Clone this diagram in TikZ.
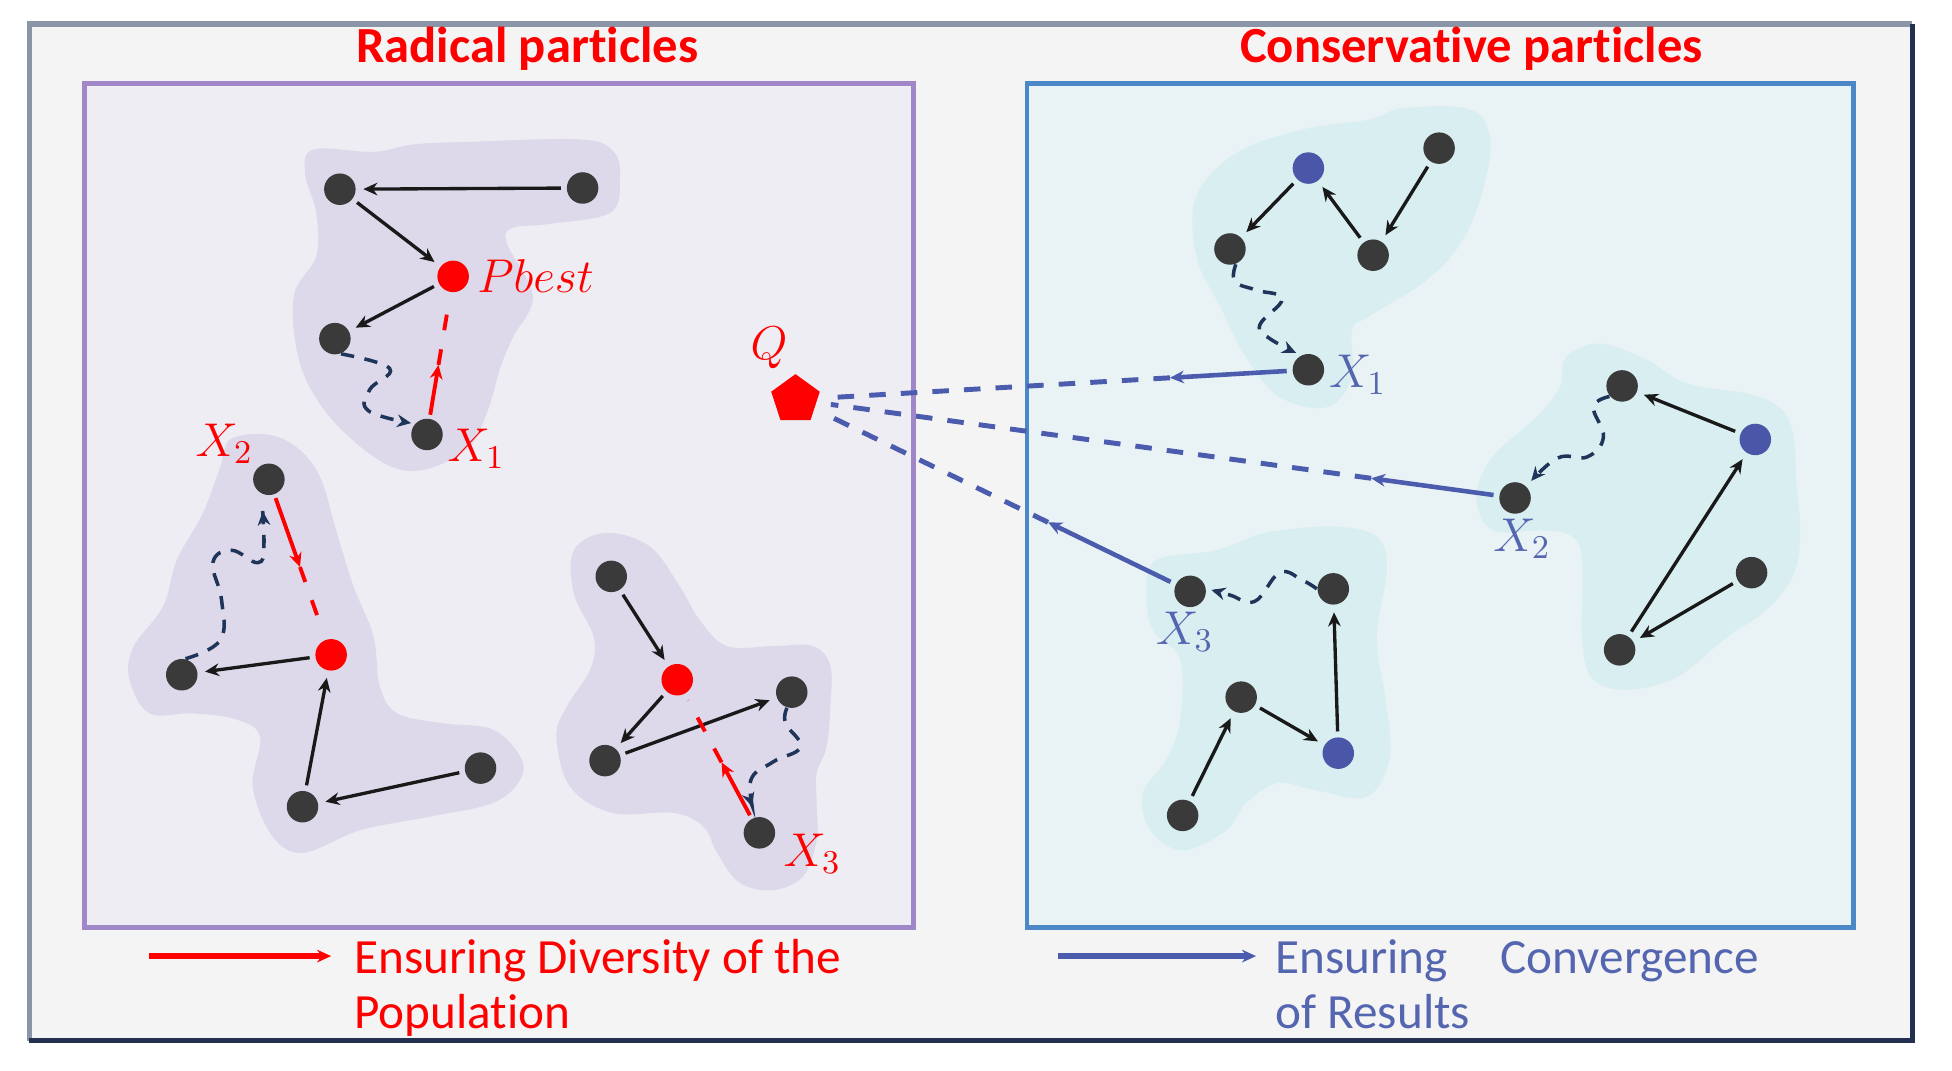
\documentclass[tikz,border=0pt]{standalone}
\usepackage{fix-cm}
\usepackage[no-math]{fontspec}
\setmainfont{Carlito}[Ligatures=NoCommon]
\usepackage{tikz}
\usetikzlibrary{arrows.meta, positioning, calc, shapes.geometric}

\definecolor{outerbg}{HTML}{F4F4F4}
\definecolor{framegray}{HTML}{8A96A8}
\definecolor{framenavy}{HTML}{23304F}
\definecolor{lpanel}{HTML}{EEEDF3}
\definecolor{lborder}{HTML}{A088C8}
\definecolor{rpanel}{HTML}{E9F2F4}
\definecolor{rborder}{HTML}{4C88C8}
\definecolor{lblob}{HTML}{DDD9EA}
\definecolor{rblob}{HTML}{D8EEF1}
\definecolor{ptgray}{HTML}{3A3A3A}
\definecolor{bestred}{HTML}{FF0000}
\definecolor{convblue}{HTML}{4A57A8}
\definecolor{wavenavy}{HTML}{1F3459}
\definecolor{qblue}{HTML}{4B5BAD}
\definecolor{convtxt}{HTML}{5566B0}

\tikzset{
  dot/.style={circle, fill=ptgray, inner sep=0pt, minimum size=3.15mm},
  bestdot/.style={dot, fill=bestred},
  convdot/.style={dot, fill=convblue},
  move/.style={->, line width=0.95pt, black!90, shorten >=2pt, shorten <=1.5pt},
  wander/.style={->, wavenavy, line width=1pt, dash pattern=on 3.8pt off 3pt},
  pull/.style={->, bestred, line width=1.1pt, shorten <=1pt},
  pulldash/.style={bestred, line width=1.1pt, dash pattern=on 4.5pt off 5.5pt, shorten >=2pt},
  push/.style={->, qblue, line width=1.3pt, shorten <=1.5pt},
  pushdash/.style={qblue, line width=1.4pt, dash pattern=on 4.7pt off 4.3pt, shorten >=4pt},
  rlab/.style={text=bestred, font=\fontsize{13.5}{15}\selectfont, inner sep=1pt},
  blab/.style={text=convtxt, font=\fontsize{13.5}{15}\selectfont, inner sep=1pt},
  ttl/.style={text=bestred, font=\fontsize{14.4}{17}\selectfont\bfseries, inner sep=0pt},
  legtxt/.style={font=\fontsize{14}{15.6}\selectfont, align=left, inner sep=0pt, anchor=north west}
}

\begin{document}
\begin{tikzpicture}[x=0.1245mm, y=-0.1245mm, >={Stealth[length=4pt,width=3.6pt]}]
  \useasboundingbox (0,0) rectangle (1568,860);
  \fill[white] (0,0) rectangle (1568,860);
  % outer frame
  \fill[outerbg] (23.5,19.3) rectangle (1536,836);
  \draw[framegray, line width=1.5pt] (23.5,836) -- (23.5,19.3) -- (1536,19.3);
  \draw[framenavy, line width=1.5pt] (1536,19.3) -- (1536,836) -- (23.5,836);
  % panels
  \draw[lborder, fill=lpanel, line width=1.3pt] (68,67) rectangle (734,745);
  \draw[rborder, fill=rpanel, line width=1.3pt] (825,67) rectangle (1489,745);
  \node[ttl, anchor=base] (ttlrad) at (423.5,50) {Radical particles};
  \node[ttl, anchor=base] (ttlcon) at (1182,50) {Conservative particles};

  % clouds, radical side
  \fill[lblob] plot[smooth cycle, tension=0.6] coordinates {(245,139) (252,120) (300,122) (332,116)
    (375,114) (466,112) (493,122) (498,145) (490,171) (440,180) (412,183) (407,195) (428,238)
    (412,271) (402,295) (391,332) (375,361) (337,378) (305,370) (265,335) (241,292) (236,238)
    (254,206) (254,171)};
  \fill[lblob] plot[smooth cycle, tension=0.6] coordinates {(177,375) (185,353) (214,349) (238,359)
    (257,383) (270,426) (284,471) (300,511) (305,551) (319,573) (356,581) (396,586) (418,608)
    (418,626) (396,645) (345,656) (289,667) (244,685) (219,672) (203,632) (209,592) (190,578)
    (155,573) (120,573) (104,546) (107,520) (131,487) (142,450) (163,412)};
  \fill[lblob] plot[smooth cycle, tension=0.6] coordinates {(461,442) (487,428) (522,439) (546,471)
    (562,498) (584,519) (621,519) (653,519) (667,535) (667,568) (664,600) (656,621) (656,645)
    (656,675) (645,704) (621,715) (594,709) (576,685) (565,664) (541,653) (492,653) (458,632)
    (447,592) (455,568) (474,538) (477,512) (461,477)};
  % clouds, conservative side
  \fill[rblob] plot[smooth cycle, tension=0.6] coordinates {(961,158) (993,123) (1047,104) (1100,96)
    (1127,87) (1181,88) (1197,112) (1191,153) (1175,193) (1146,225) (1100,254) (1086,265)
    (1086,303) (1066,327) (1028,319) (1001,287) (980,246) (961,206)};
  \fill[rblob] plot[smooth cycle, tension=0.6] coordinates {(1258,287) (1285,276) (1323,289)
    (1355,308) (1414,319) (1438,340) (1443,386) (1446,431) (1440,463) (1419,490) (1387,512)
    (1347,544) (1307,554) (1280,546) (1271,516) (1271,452) (1263,431) (1239,426) (1199,426)
    (1186,399) (1199,367) (1234,335) (1253,311)};
  \fill[rblob] plot[smooth cycle, tension=0.6] coordinates {(929,450) (977,442) (1017,428)
    (1071,423) (1106,431) (1114,458) (1106,512) (1114,568) (1116,610) (1098,640) (1058,635)
    (1026,629) (1001,645) (985,667) (950,683) (924,667) (918,637) (937,610) (948,578) (948,530)
    (926,506) (921,476)};

  % radical particles
  \node[dot] (La1) at (273,152) {};
  \node[dot] (La2) at (468,151) {};
  \node[bestdot] (Labest) at (364,222) {};
  \node[dot] (La3) at (269,272) {};
  \node[dot] (LX1) at (343,349) {};
  \node[dot] (LX2) at (216,385) {};
  \node[dot] (Lb1) at (146,542) {};
  \node[bestdot] (Lbbest) at (266,526) {};
  \node[dot] (Lb2) at (243,648) {};
  \node[dot] (Lb3) at (386,617) {};
  \node[dot] (Lc1) at (491,463) {};
  \node[bestdot] (Lcbest) at (544,546) {};
  \node[dot] (Lc2) at (636,556) {};
  \node[dot] (Lc3) at (486,611) {};
  \node[dot] (LX3) at (610,669) {};
  % conservative particles
  \node[convdot] (Rabest) at (1051,135) {};
  \node[dot] (Ra1) at (1156,119) {};
  \node[dot] (Ra2) at (988,200) {};
  \node[dot] (Ra3) at (1103,205) {};
  \node[dot] (RX1) at (1051,297) {};
  \node[dot] (Rb1) at (1303,310) {};
  \node[convdot] (Rbbest) at (1410,353) {};
  \node[dot] (RX2) at (1217,400) {};
  \node[dot] (Rb2) at (1407,460) {};
  \node[dot] (Rb3) at (1301,522) {};
  \node[dot] (RX3) at (956,475) {};
  \node[dot] (Rc1) at (1071,473) {};
  \node[dot] (Rc2) at (997,560) {};
  \node[convdot] (Rcbest) at (1075,605) {};
  \node[dot] (Rc3) at (950,655) {};
  % global point
  \node[regular polygon, regular polygon sides=5, fill=bestred, inner sep=0pt,
        minimum size=5.1mm] (Q) at (639,321) {};

  % moves inside the swarms
  \draw[move] (La2) -- (La1);
  \draw[move] (La1) -- (Labest);
  \draw[move] (Labest) -- (La3);
  \draw[move] (Lbbest) -- (Lb1);
  \draw[move] (Lb2) -- (Lbbest);
  \draw[move] (Lb3) -- (Lb2);
  \draw[move] (Lc1) -- (Lcbest);
  \draw[move] (Lcbest) -- (Lc3);
  \draw[move] (Lc3) -- (Lc2);
  \draw[move] (Rabest) -- (Ra2);
  \draw[move] (Ra3) -- (Rabest);
  \draw[move] (Ra1) -- (Ra3);
  \draw[move] (Rbbest) -- (Rb1);
  \draw[move] (Rb3) -- (Rbbest);
  \draw[move] (Rb2) -- (Rb3);
  \draw[move] (Rcbest) -- (Rc1);
  \draw[move] (Rc2) -- (Rcbest);
  \draw[move] (Rc3) -- (Rc2);

  % random walks
  \draw[wander, shorten >=1pt] plot[smooth, tension=0.7] coordinates {(La3.-68) (313,296) (297,313) (296,330) (LX1.139)};
  \draw[wander, shorten >=5pt] plot[smooth, tension=0.7] coordinates {(Lb1.77) (177,514) (178,482) (171,452) (186,442) (207,452) (212,438) (LX2.-118)};
  \draw[wander, shorten >=3pt] plot[smooth, tension=0.7] coordinates {(Lc2.-107) (631,581) (643,600) (621,612) (603,627) (LX3.103)};
  \draw[wander, shorten >=1.5pt] plot[smooth, tension=0.7] coordinates {(Ra2.-69) (992,226) (1009,233) (1030,240) (1012,261) (1020,272) (RX1.117)};
  \draw[wander, shorten >=2pt] plot[smooth, tension=0.7] coordinates {(Rb1.-140) (1280,327) (1288,351) (1275,367) (1251,368) (RX2.45)};
  \draw[wander, shorten >=1.5pt] plot[smooth, tension=0.7] coordinates {(Rc1.180) (1046,466) (1028,460) (1008,483) (988,478) (RX3.10)};

  % radical: pulled towards the swarm best
  \draw[pull] (LX1) -- ($(LX1)!0.44!(Labest)$);
  \draw[pulldash] ($(LX1)!0.44!(Labest)$) -- (Labest);
  \draw[pull] (LX2) -- ($(LX2)!0.5!(Lbbest)$);
  \draw[pulldash] ($(LX2)!0.5!(Lbbest)$) -- (Lbbest);
  \draw[pull] (LX3) -- ($(LX3)!0.46!(Lcbest)$);
  \draw[pulldash] ($(LX3)!0.46!(Lcbest)$) -- (Lcbest);
  % conservative: pulled towards Q
  \draw[push] (RX1) -- ($(RX1)!0.27!(Q)$);
  \draw[pushdash] ($(RX1)!0.27!(Q)$) -- (Q);
  \draw[push] (RX2) -- ($(RX2)!0.2!(Q)$);
  \draw[pushdash] ($(RX2)!0.2!(Q)$) -- (Q);
  \draw[push] (RX3) -- ($(RX3)!0.36!(Q)$);
  \draw[pushdash] ($(RX3)!0.36!(Q)$) -- (Q);

  % labels
  \node[rlab, right=1pt of Labest] (pbestlab) {$Pbest$};
  \node[rlab, right=0pt of LX1, yshift=-4pt] (lx1lab) {$X_1$};
  \node[rlab, above left=0pt of LX2] (lx2lab) {$X_2$};
  \node[rlab, right=1pt of LX3, yshift=-6pt] (lx3lab) {$X_3$};
  \node[rlab, above=0pt of Q, xshift=-7.5pt] (qlab) {$Q$};
  \node[blab, right=0pt of RX1, yshift=-1.5pt] (rx1lab) {$X_1$};
  \node[blab, below=0pt of RX2, xshift=2pt] (rx2lab) {$X_2$};
  \node[blab, below=0pt of RX3, xshift=-1.5pt] (rx3lab) {$X_3$};

  % legend
  \coordinate (redtail) at (120,768);
  \coordinate (redhead) at (266,768);
  \draw[->, bestred, line width=1.5pt] (redtail) -- (redhead);
  \node[legtxt, text=bestred] (divtxt) at (284,754) {Ensuring Diversity of the\\Population};
  \coordinate (bluetail) at (850,768);
  \coordinate (bluehead) at (1009,768);
  \draw[->, qblue, line width=1.5pt] (bluetail) -- (bluehead);
  \node[legtxt, text=convtxt] (convtxt) at (1024,754) {Ensuring\hspace{15pt}Convergence\\of Results};
\end{tikzpicture}
\end{document}
